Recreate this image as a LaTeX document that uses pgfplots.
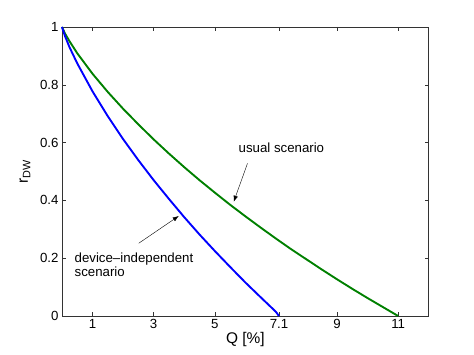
\documentclass[border=0pt]{standalone}
\usepackage{fontspec}
\setmainfont{Liberation Sans}
\usepackage{pgfplots}
\pgfplotsset{compat=1.18}
\usetikzlibrary{arrows.meta}
\definecolor{mgreen}{rgb}{0,0.5,0}
\begin{document}
\begin{tikzpicture}
\begin{axis}[
  scale only axis,
  width=366.7bp, height=289bp,
  at={(0,0)}, anchor=south west,
  xmin=0, xmax=12, ymin=0, ymax=1,
  xtick={1,3,5,7.1,9,11},
  xticklabels={1,3,5,7.1,9,11},
  ytick={0,0.2,0.4,0.6,0.8,1},
  yticklabels={0,0.2,0.4,0.6,0.8,1},
  tick align=inside, tick pos=both,
  major tick length=4bp,
  axis line style={black!80, line width=0.7pt},
  tick style={black!80, line width=0.5pt},
  /pgf/number format/assume math mode=true,
  tick label style={font=\fontsize{13.3}{15}\selectfont},
  xlabel={Q [\%]}, ylabel={r\textsubscript{DW}},
  label style={font=\fontsize{15.5}{18}\selectfont},
  xlabel style={at={(axis description cs:0.5,0)}, anchor=center, yshift=-24bp},
  ylabel style={at={(axis description cs:0,0.5)}, anchor=center, xshift=0bp, yshift=37bp},
  clip=false,
]
\addplot[mgreen, line width=1.9pt] coordinates {
(0,1) (0.1,0.977) (0.25,0.950) (0.5,0.909) (1,0.838) (1.5,0.775) (2,0.717) (2.5,0.663)
(3,0.611) (3.5,0.562) (4,0.515) (4.5,0.470) (5,0.427) (5.5,0.385) (6,0.345)
(6.5,0.306) (7,0.268) (7.5,0.231) (8,0.196) (8.5,0.161) (9,0.127) (9.5,0.094)
(10,0.062) (10.5,0.031) (11,0)
};
\addplot[blue, line width=1.9pt] coordinates {
(0,1) (0.1,0.968) (0.25,0.929) (0.5,0.874) (1,0.777) (1.5,0.691) (2,0.612) (2.5,0.539)
(3,0.470) (3.5,0.405) (4,0.342) (4.5,0.282) (5,0.225) (5.5,0.170) (6,0.116)
(6.5,0.065) (7,0.0145) (7.1,0)
};
\node[font=\fontsize{13.3}{16}\selectfont] at (axis cs:7.18,0.582) {usual scenario};
\draw[-{Latex[length=6bp,width=4.5bp]}, thin] (axis cs:6.07,0.528) -- (axis cs:5.62,0.3955);
\node[font=\fontsize{13.3}{16}\selectfont, anchor=west, align=left] at (axis cs:0.30,0.1775) {device--independent\\[-2pt]scenario};
\draw[-{Latex[length=6bp,width=4.5bp]}, thin] (axis cs:2.51,0.2516) -- (axis cs:3.82,0.346);
\end{axis}
\pgfresetboundingbox
\path (-62bp,-39bp) rectangle (412bp,316bp);
\end{tikzpicture}
\end{document}
